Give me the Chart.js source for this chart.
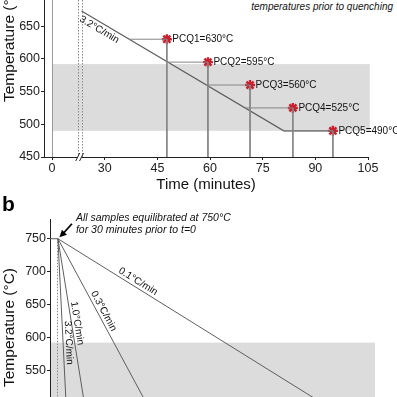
<!DOCTYPE html>
<html>
<head>
<meta charset="utf-8">
<script src="https://cdn.jsdelivr.net/npm/chart.js@4.4.1/dist/chart.umd.min.js"></script>
<style>
    html, body { margin: 0; padding: 0; background: #fff; }
    body { position: relative; width: 397px; height: 397px; overflow: hidden; font-family: "Liberation Sans", Arial, sans-serif; }
    #panelA { position: absolute; left: 0; top: -119px; }
    #panelB { position: absolute; left: 0; top: 192px; }
    .note { position: absolute; right: 4px; top: 1px; font-size: 10px; font-style: italic; color: #111; }
    .tag { position: absolute; left: 2px; top: 192px; font-size: 21px; font-weight: bold; color: #000; }
</style>
</head>
<body>
<div class="note">temperatures prior to quenching</div>
<canvas id="panelA" width="397" height="313"></canvas>
<div class="tag">b</div>
<canvas id="panelB" width="397" height="300"></canvas>
<script>
// ---- panel a ----
const A_X_TICKS = [15, 30, 45, 60, 75, 90, 105];
const A_X_LABELS = ['0', '30', '45', '60', '75', '90', '105'];
const A_ZERO = 15;              // axis position labelled t=0, axis is broken after it
const A_BREAK = [22.3, 23.4];
const A_Y_TICKS = [450, 500, 550, 600, 650, 700, 750, 800];
const A_COOL_T = [23.4, 81, 95];
const A_COOL_TEMP = [673, 490, 490];
const PCQ_NAMES = ['PCQ1', 'PCQ2', 'PCQ3', 'PCQ4', 'PCQ5'];
const PCQ_T = [47.7, 59.4, 71.4, 83.6, 95];
const PCQ_TEMP = [630, 595, 560, 525, 490];
const BAND_TEMP = [490, 592];

// ---- panel b ----
const B_Y_TICKS = [450, 500, 550, 600, 650, 700, 750];
const B_RATES = ['0.1°C/min', '0.3°C/min', '1.0°C/min', '3.2°C/min'];
const B_END_T = [2600, 870, 260, 80];
const B_START_TEMP = 750;
const B_END_TEMP = 490;
const B_HOLD_T = -75;

Chart.defaults.font.family = '"Liberation Sans", Arial, sans-serif';
Chart.defaults.color = '#222';

const RED = '#c8202f';
const LINE = '#5e5e5e';
const GUIDE = '#858585';
const SHADE = '#dcdcdc';

const pt = (x, y) => ({ x: x, y: y });

// time where the cooling line passes a temperature
function crossT(temp) {
    for (let i = 0; i < A_COOL_T.length - 1; i++) {
        const t0 = A_COOL_TEMP[i], t1 = A_COOL_TEMP[i + 1];
        if (t0 !== t1 && temp <= t0 && temp >= t1) {
            return A_COOL_T[i] + (t0 - temp) / (t0 - t1) * (A_COOL_T[i + 1] - A_COOL_T[i]);
        }
    }
    return A_COOL_T[A_COOL_T.length - 1];
}

function lineLabel(chart, text, p0, p1, f, off) {
    const ctx = chart.ctx, xs = chart.scales.x, ys = chart.scales.y;
    const x0 = xs.getPixelForValue(p0.x), y0 = ys.getPixelForValue(p0.y);
    const x1 = xs.getPixelForValue(p1.x), y1 = ys.getPixelForValue(p1.y);
    const a = Math.atan2(y1 - y0, x1 - x0);
    const cx = x0 + (x1 - x0) * f + Math.sin(a) * off;
    const cy = y0 + (y1 - y0) * f - Math.cos(a) * off;
    ctx.save();
    ctx.translate(cx, cy);
    ctx.rotate(a);
    ctx.font = '10px "Liberation Sans", Arial, sans-serif';
    ctx.fillStyle = '#111';
    ctx.textAlign = 'center';
    ctx.textBaseline = 'middle';
    ctx.fillText(text, 0, 0);
    ctx.restore();
}

function axisY(tickList, min, max, width) {
    return {
        min: min, max: max,
        afterBuildTicks: s => { s.ticks = tickList.map(v => ({ value: v })); },
        afterFit: s => { s.width = width; },
        border: { color: '#222', width: 1 },
        grid: { drawOnChartArea: false, tickLength: 3, color: '#222' },
        ticks: { padding: 1, font: { size: 12.5 }, color: '#222' },
        title: { display: true, text: 'Temperature (°C)', font: { size: 15.5 }, color: '#111', padding: 0 }
    };
}

// ---------- panel a ----------
const coolA = A_COOL_T.map((t, i) => pt(t, A_COOL_TEMP[i]));
const aSets = [];
PCQ_T.forEach((t, i) => {
    aSets.push({
        data: [pt(crossT(PCQ_TEMP[i]), PCQ_TEMP[i]), pt(t, PCQ_TEMP[i]), pt(t, A_Y_TICKS[0])],
        showLine: true, borderColor: GUIDE, borderWidth: 1, pointRadius: 0
    });
});
aSets.push({ data: coolA, showLine: true, borderColor: LINE, borderWidth: 1.2, pointRadius: 0 });
aSets.push({
    data: PCQ_T.map((t, i) => pt(t, PCQ_TEMP[i])),
    showLine: false, pointStyle: 'star', pointRadius: 5, borderColor: RED, borderWidth: 2.4
});

const panelAPlugin = {
    id: 'panelAPlugin',
    beforeDatasetsDraw(chart) {
        const ctx = chart.ctx, xs = chart.scales.x, ys = chart.scales.y, area = chart.chartArea;
        ctx.save();
        ctx.fillStyle = SHADE;
        const bx = xs.getPixelForValue(A_ZERO);
        ctx.fillRect(bx, ys.getPixelForValue(BAND_TEMP[1]), xs.getPixelForValue(xs.max + 0.5) - bx,
            ys.getPixelForValue(BAND_TEMP[0]) - ys.getPixelForValue(BAND_TEMP[1]));
        ctx.strokeStyle = '#9a9a9a';
        ctx.lineWidth = 1;
        ctx.beginPath();
        ctx.moveTo(Math.round(bx) + 0.5, area.top);
        ctx.lineTo(Math.round(bx) + 0.5, area.bottom);
        ctx.stroke();
        ctx.strokeStyle = '#8a8a8a';
        ctx.setLineDash([1.5, 1.5]);
        A_BREAK.forEach(v => {
            const x = Math.round(xs.getPixelForValue(v)) + 0.5;
            ctx.beginPath();
            ctx.moveTo(x, area.top);
            ctx.lineTo(x, area.bottom);
            ctx.stroke();
        });
        ctx.restore();
    },
    afterDatasetsDraw(chart) {
        const ctx = chart.ctx, xs = chart.scales.x, ys = chart.scales.y, area = chart.chartArea;
        ctx.save();
        // axis break marks
        const xa = xs.getPixelForValue(A_BREAK[0]), xb = xs.getPixelForValue(A_BREAK[1]);
        const yb = area.bottom;
        ctx.fillStyle = '#fff';
        ctx.fillRect(xa, yb - 2, xb - xa, 4);
        ctx.strokeStyle = '#222';
        ctx.lineWidth = 1;
        [xa, xb].forEach(x => {
            ctx.beginPath();
            ctx.moveTo(x - 2, yb + 4);
            ctx.lineTo(x + 2, yb - 4);
            ctx.stroke();
        });
        // PCQ labels
        ctx.font = '10px "Liberation Sans", Arial, sans-serif';
        ctx.fillStyle = '#111';
        ctx.textBaseline = 'middle';
        ctx.textAlign = 'left';
        PCQ_T.forEach((t, i) => {
            ctx.fillText(PCQ_NAMES[i] + '=' + PCQ_TEMP[i] + '°C',
                xs.getPixelForValue(t) + 5.5, ys.getPixelForValue(PCQ_TEMP[i]) + 0.5);
        });
        ctx.restore();
        lineLabel(chart, '3.2°C/min', coolA[0], coolA[1], 0.105, -7);
    }
};

new Chart(document.getElementById('panelA'), {
    type: 'scatter',
    data: { datasets: aSets },
    options: {
        responsive: false,
        animation: false,
        layout: { padding: { top: 47, right: 29, left: 0, bottom: 0 } },
        plugins: { legend: { display: false }, tooltip: { enabled: false } },
        scales: {
            x: {
                type: 'linear', min: 12.7, max: 105,
                afterBuildTicks: s => { s.ticks = A_X_TICKS.map(v => ({ value: v })); },
                afterFit: s => { s.height = 37; },
                border: { color: '#222', width: 1 },
                grid: { drawOnChartArea: false, tickLength: 3, color: '#222' },
                ticks: {
                    padding: 1, font: { size: 12.5 }, color: '#222', maxRotation: 0,
                    callback: v => A_X_LABELS[A_X_TICKS.indexOf(v)]
                },
                title: { display: true, text: 'Time (minutes)', font: { size: 15 }, color: '#111', padding: 0 }
            },
            y: axisY(A_Y_TICKS, 450, 800, 44)
        }
    },
    plugins: [panelAPlugin]
});

// ---------- panel b ----------
const bStart = pt(0, B_START_TEMP);
const bSets = [{
    data: [pt(B_HOLD_T, B_START_TEMP), bStart],
    showLine: true, borderColor: LINE, borderWidth: 1, pointRadius: 0
}];
B_END_T.forEach(t => {
    bSets.push({
        data: [bStart, pt(t, B_END_TEMP)],
        showLine: true, borderColor: LINE, borderWidth: 1, pointRadius: 0
    });
});

const B_LABEL_POS = [[0.28, 6], [0.44, 6], [0.5, 5.5], [0.61, 5.5]];

const panelBPlugin = {
    id: 'panelBPlugin',
    beforeDatasetsDraw(chart) {
        const ctx = chart.ctx, xs = chart.scales.x, ys = chart.scales.y, area = chart.chartArea;
        ctx.save();
        ctx.fillStyle = SHADE;
        const top = ys.getPixelForValue(BAND_TEMP[1]);
        ctx.fillRect(area.left + 1, top, area.right - area.left - 1, ys.getPixelForValue(BAND_TEMP[0]) - top);
        ctx.strokeStyle = '#8a8a8a';
        ctx.lineWidth = 1;
        ctx.setLineDash([1.5, 1.5]);
        const x = Math.round(xs.getPixelForValue(0)) - 0.5;
        ctx.beginPath();
        ctx.moveTo(x, ys.getPixelForValue(B_START_TEMP));
        ctx.lineTo(x, area.bottom);
        ctx.stroke();
        ctx.restore();
    },
    afterDatasetsDraw(chart) {
        const ctx = chart.ctx, xs = chart.scales.x, ys = chart.scales.y;
        B_RATES.forEach((txt, i) => {
            lineLabel(chart, txt, bStart, pt(B_END_T[i], B_END_TEMP), B_LABEL_POS[i][0], B_LABEL_POS[i][1]);
        });
        const sx = xs.getPixelForValue(0), sy = ys.getPixelForValue(B_START_TEMP);
        ctx.save();
        // arrow to the start point
        ctx.strokeStyle = '#000';
        ctx.fillStyle = '#000';
        ctx.lineWidth = 1.8;
        ctx.beginPath();
        ctx.moveTo(sx + 14, sy - 15);
        ctx.lineTo(sx + 5, sy - 5);
        ctx.stroke();
        ctx.beginPath();
        ctx.moveTo(sx + 1.5, sy - 1.5);
        ctx.lineTo(sx + 9, sy - 4);
        ctx.lineTo(sx + 4, sy - 9);
        ctx.closePath();
        ctx.fill();
        ctx.font = 'italic 10.5px "Liberation Sans", Arial, sans-serif';
        ctx.textAlign = 'left';
        ctx.textBaseline = 'middle';
        ctx.fillStyle = '#111';
        ctx.fillText('All samples equilibrated at 750°C', sx + 18, sy - 21);
        ctx.fillText('for 30 minutes prior to t=0', sx + 18, sy - 9);
        ctx.restore();
    }
};

new Chart(document.getElementById('panelB'), {
    type: 'scatter',
    data: { datasets: bSets },
    options: {
        responsive: false,
        animation: false,
        layout: { padding: { top: 27, right: 22, left: 0, bottom: 0 } },
        plugins: { legend: { display: false }, tooltip: { enabled: false } },
        scales: {
            x: {
                type: 'linear', min: B_HOLD_T, max: 3000,
                afterFit: s => { s.height = 56; },
                border: { color: '#222', width: 1 },
                grid: { display: false },
                ticks: { display: false }
            },
            y: axisY(B_Y_TICKS, 450, 780, 50)
        }
    },
    plugins: [panelBPlugin]
});
</script>
</body>
</html>
